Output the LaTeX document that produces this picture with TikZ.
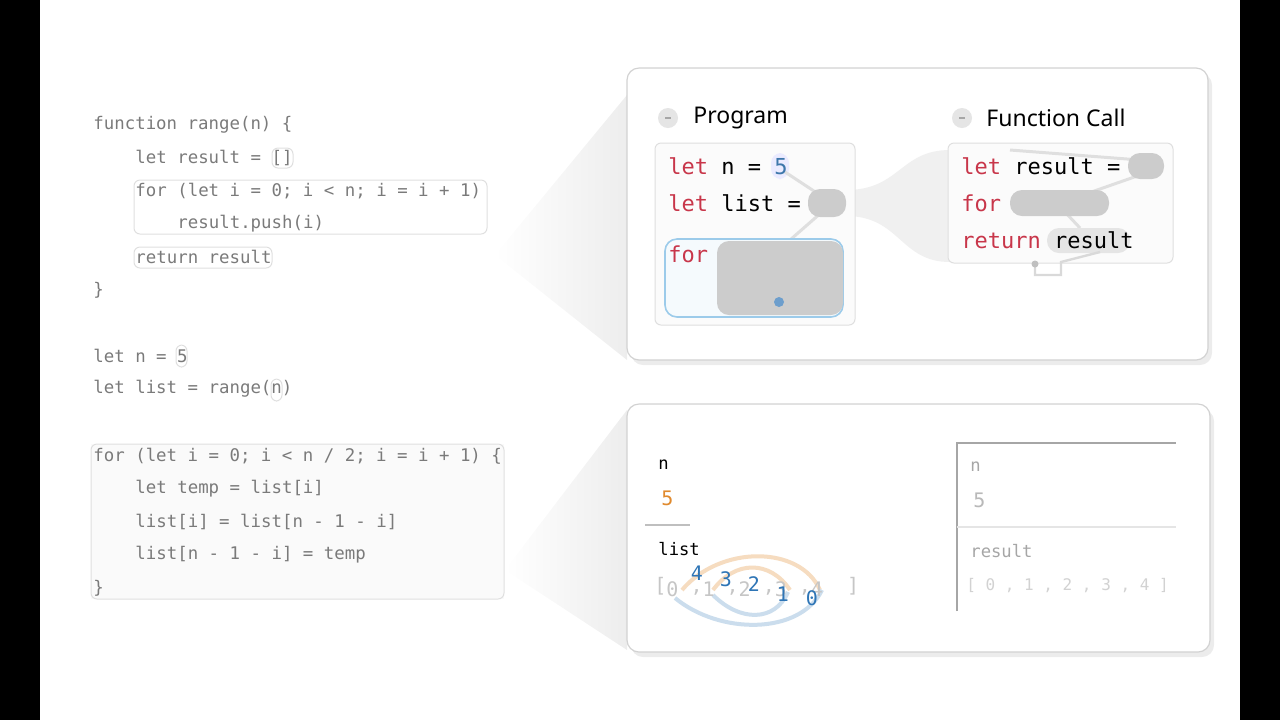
\documentclass[tikz,border=0pt]{standalone}
\usepackage{fontspec}
\setmainfont{Noto Sans}
\setmonofont{DejaVu Sans Mono}
\usetikzlibrary{positioning}
\definecolor{kwred}{HTML}{C8364A}
\definecolor{codegray}{HTML}{7A7A7A}
\definecolor{valblue}{HTML}{2E75B6}
\definecolor{valorange}{HTML}{E08A2E}
\definecolor{loopblue}{HTML}{9CCBEA}
\tikzset{
  code/.style={anchor=west, inner sep=0pt, font=\fontsize{8.7}{10}\selectfont\ttfamily, text=codegray},
  bigcode/.style={anchor=west, inner sep=0pt, font=\fontsize{11}{13}\selectfont\ttfamily},
  memtext/.style={anchor=west, inner sep=0pt, font=\fontsize{8.6}{10}\selectfont\ttfamily},
  title/.style={anchor=west, inner sep=0pt, font=\fontsize{11.5}{13}\selectfont},
  hole/.style={fill=gray!40, draw=none, rounded corners=6pt},
  panel/.style={draw=gray!35, fill=white, rounded corners=6pt, line width=0.6pt},
  linebox/.style={draw=gray!25, rounded corners=3pt, line width=0.5pt},
  wire/.style={draw=gray!25, line width=1.5pt}
}
\begin{document}
\begin{tikzpicture}[x=0.5pt, y=-0.5pt]
    \useasboundingbox (0,0) rectangle (1280,720);
    % Frame
    \fill[black] (0,0) rectangle (40,720);
    \fill[black] (1240,0) rectangle (1280,720);

    % Wedges towards the panels
    \shade[left color=white, right color=gray!14] (495,255) -- (627,95) -- (627,360) -- cycle;
    \shade[left color=white, right color=gray!14] (505,570) -- (627,410) -- (627,650) -- cycle;

    % Source code
    \fill[gray!4] (91,444) rectangle (504,599);
    \draw[linebox] (91,444) rectangle (504,599);
    \draw[linebox] (134,180) rectangle (487,234);
    \draw[linebox] (134,247) rectangle (272,268);
    \draw[linebox] (272,148) rectangle (293,168);
    \draw[linebox] (176,345) rectangle (187,367);
    \draw[linebox] (271,379) rectangle (282,401);
    \node[code] (c1) at (93,125) {function range(n) \{};
    \node[code] (c2) at (135,158) {let result = []};
    \node[code] (c3) at (135,191) {for (let i = 0; i < n; i = i + 1)};
    \node[code] (c4) at (177,224) {result.push(i)};
    \node[code] (c5) at (135,257) {return result};
    \node[code] (c6) at (93,290) {\}};
    \node[code] (c7) at (93,356) {let n = 5};
    \node[code] (c8) at (93,389) {let list = range(n)};
    \node[code] (c9) at (93,456) {for (let i = 0; i < n / 2; i = i + 1) \{};
    \node[code] (c10) at (135,489) {let temp = list[i]};
    \node[code] (c11) at (135,522) {list[i] = list[n - 1 - i]};
    \node[code] (c12) at (135,555) {list[n - 1 - i] = temp};
    \node[code] (c13) at (93,588) {\}};

    % Upper panel
    \fill[gray!15, rounded corners=6pt] (631,73) rectangle (1212,365);
    \draw[panel] (627,68) rectangle (1208,360);
    \fill[gray!20] (668,118) circle (10);
    \draw[gray!70, line width=1pt] (665,118) -- (671,118);
    \node[title] (prog) at (693,118) {Program};
    \fill[gray!20] (962,118) circle (10);
    \draw[gray!70, line width=1pt] (959,118) -- (965,118);
    \node[title] (call) at (986,118) {Function Call};
    % funnel between the two frames
    \fill[gray!12] (846,190) .. controls (900,190) and (900,150) .. (950,150)
        -- (950,262) .. controls (900,262) and (900,216) .. (846,216) -- cycle;
    \draw[linebox, fill=gray!3] (655,143) rectangle (855,325);
    \draw[linebox, fill=gray!3] (948,143) rectangle (1173,263);
    % program frame
    \fill[blue!8, rounded corners=5pt] (771,153) rectangle (789,179);
    \draw[wire] (785,172) -- (820,195);
    \draw[wire] (822,212) -- (790,240);
    \node[bigcode] (ln) at (668,166) {\textcolor{kwred}{let} n = \textcolor{valblue!80!gray}{5}};
    \node[bigcode] (ll) at (668,203) {\textcolor{kwred}{let} list =};
    \fill[hole] (808,189) rectangle (846,217);
    \draw[draw=loopblue, fill=loopblue!10, rounded corners=6pt, line width=0.8pt] (665,239) rectangle (843,317);
    \node[bigcode, text=kwred] (lf) at (668,254) {for};
    \fill[hole] (717,241) rectangle (843,315);
    \fill[valblue!70] (779,302) circle (5);
    % function call frame
    \draw[wire] (1010,150) -- (1140,160);
    \draw[wire] (1060,203) -- (1140,175);
    \draw[wire] (1065,212) -- (1080,228);
    \node[bigcode] (fr) at (961,166) {\textcolor{kwred}{let} result =};
    \fill[hole] (1128,153) rectangle (1164,179);
    \node[bigcode, text=kwred] (ff) at (961,203) {for};
    \fill[hole] (1010,190) rectangle (1109,216);
    \fill[gray!20, rounded corners=6pt] (1047,228) rectangle (1130,253);
    \node[bigcode] (fret) at (961,240) {\textcolor{kwred}{return} result};
    \draw[gray!30, line width=1.2pt] (1035,264) -- (1035,275) -- (1061,275) -- (1061,262) -- (1100,252);
    \fill[gray!50] (1035,264) circle (3.5);

    % Lower panel
    \fill[gray!15, rounded corners=6pt] (631,409) rectangle (1214,657);
    \draw[panel] (627,404) rectangle (1210,652);
    \node[memtext] (vn) at (658,465) {n};
    \node[memtext, text=valorange, font=\fontsize{10}{12}\selectfont\ttfamily] (vfive) at (661,498) {5};
    \draw[gray!50, line width=0.6pt] (645,525) -- (690,525);
    \node[memtext] (vlist) at (658,549) {list};
    % swap arcs
    \draw[valorange!30, line width=2pt] (682,590) .. controls (720,545) and (800,545) .. (820,590);
    \draw[valorange!30, line width=2pt] (713,590) .. controls (735,560) and (770,560) .. (790,590);
    \draw[valblue!25, line width=2pt] (675,598) .. controls (720,635) and (800,635) .. (822,590);
    \draw[valblue!25, line width=2pt] (713,595) .. controls (740,622) and (775,622) .. (788,592);
    \node[memtext, text=gray!45, font=\fontsize{10}{12}\selectfont\ttfamily] (lold) at (654,587)
        {[\raisebox{-2pt}{0} ,\raisebox{-2pt}{1} ,\raisebox{-2pt}{2} ,\raisebox{-2pt}{3} ,\raisebox{-2pt}{4}\ \ ]};
    \foreach \v/\x/\y in {4/697/573, 3/726/579, 2/754/584, 1/783/594, 0/812/598}
        \node[text=valblue, font=\fontsize{10}{12}\selectfont\ttfamily, inner sep=0pt] (new\v) at (\x,\y) {\v};
    % function call memory
    \draw[gray!70, line width=0.8pt] (957,611) -- (957,443) -- (1176,443);
    \draw[gray!20, line width=0.6pt] (957,527) -- (1176,527);
    \node[memtext, text=gray!70] (rn) at (970,467) {n};
    \node[memtext, text=gray!55, font=\fontsize{10}{12}\selectfont\ttfamily] (rfive) at (973,500) {5};
    \node[memtext, text=gray!70] (rres) at (970,551) {result};
    \node[memtext, text=gray!35, font=\fontsize{8}{10}\selectfont\ttfamily] (rlist) at (966,586) {[ 0 , 1 , 2 , 3 , 4 ]};
\end{tikzpicture}
\end{document}
